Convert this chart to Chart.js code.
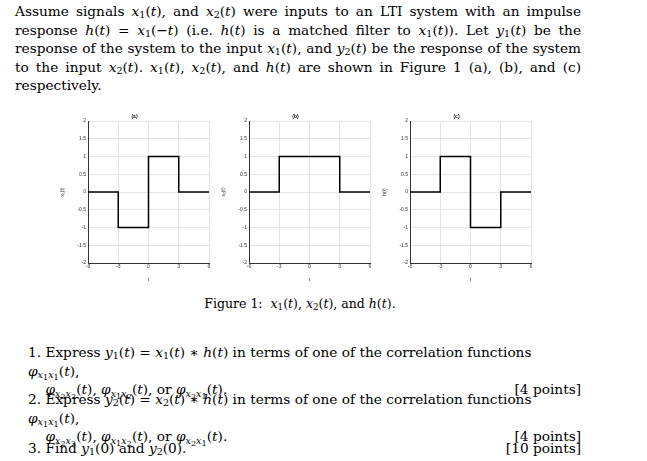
<!DOCTYPE html>
<html><head><meta charset="utf-8">
<script src="https://cdn.jsdelivr.net/npm/chart.js@4/dist/chart.umd.min.js"></script>
<style>
body{margin:0;width:647px;height:461px;background:#fff;font-family:"DejaVu Serif",serif;color:#000;position:relative;overflow:hidden}
.p{position:absolute;left:15px;width:566px;font-size:13.7px;line-height:18.6px;text-align:justify}
sub{font-size:70%;line-height:0;vertical-align:-0.25em}
sub sub{font-size:85%}
.c{position:absolute;top:113px;width:160px;height:170px}
.item{position:absolute;left:28px;width:553px;font-size:13.7px;line-height:18.6px}
.pts{float:right}
</style></head><body>
<div class="p" style="top:2px">Assume signals <i>x</i><sub>1</sub>(<i>t</i>), and <i>x</i><sub>2</sub>(<i>t</i>) were inputs to an LTI system with an impulse response <i>h</i>(<i>t</i>) = <i>x</i><sub>1</sub>(&minus;<i>t</i>) (i.e. <i>h</i>(<i>t</i>) is a matched filter to <i>x</i><sub>1</sub>(<i>t</i>)). Let <i>y</i><sub>1</sub>(<i>t</i>) be the response of the system to the input <i>x</i><sub>1</sub>(<i>t</i>), and <i>y</i><sub>2</sub>(<i>t</i>) be the response of the system to the input <i>x</i><sub>2</sub>(<i>t</i>). <i>x</i><sub>1</sub>(<i>t</i>), <i>x</i><sub>2</sub>(<i>t</i>), and <i>h</i>(<i>t</i>) are shown in Figure 1 (a), (b), and (c) respectively.</div>
<div class="c" style="left:60px"><canvas id="ca"></canvas></div>
<div class="c" style="left:221px"><canvas id="cb"></canvas></div>
<div class="c" style="left:382px"><canvas id="cc"></canvas></div>
<div style="position:absolute;top:296px;left:0;width:600px;text-align:center;font-size:12.5px">Figure 1: &nbsp;<i>x</i><sub>1</sub>(<i>t</i>), <i>x</i><sub>2</sub>(<i>t</i>), and <i>h</i>(<i>t</i>).</div>
<div class="item" style="top:343px">1. Express <i>y</i><sub>1</sub>(<i>t</i>) = <i>x</i><sub>1</sub>(<i>t</i>) &lowast; <i>h</i>(<i>t</i>) in terms of one of the correlation functions <i>&phi;</i><sub><i>x</i><sub>1</sub><i>x</i><sub>1</sub></sub>(<i>t</i>),<br>&nbsp;&nbsp;&nbsp;&nbsp;<i>&phi;</i><sub><i>x</i><sub>2</sub><i>x</i><sub>2</sub></sub>(<i>t</i>), <i>&phi;</i><sub><i>x</i><sub>1</sub><i>x</i><sub>2</sub></sub>(<i>t</i>), or <i>&phi;</i><sub><i>x</i><sub>2</sub><i>x</i><sub>1</sub></sub>(<i>t</i>).<span class="pts">[4 points]</span></div>
<div class="item" style="top:390px">2. Express <i>y</i><sub>2</sub>(<i>t</i>) = <i>x</i><sub>2</sub>(<i>t</i>) &lowast; <i>h</i>(<i>t</i>) in terms of one of the correlation functions <i>&phi;</i><sub><i>x</i><sub>1</sub><i>x</i><sub>1</sub></sub>(<i>t</i>),<br>&nbsp;&nbsp;&nbsp;&nbsp;<i>&phi;</i><sub><i>x</i><sub>2</sub><i>x</i><sub>2</sub></sub>(<i>t</i>), <i>&phi;</i><sub><i>x</i><sub>1</sub><i>x</i><sub>2</sub></sub>(<i>t</i>), or <i>&phi;</i><sub><i>x</i><sub>2</sub><i>x</i><sub>1</sub></sub>(<i>t</i>).<span class="pts">[4 points]</span></div>
<div class="item" style="top:439px">3. Find <i>y</i><sub>1</sub>(0) and <i>y</i><sub>2</sub>(0).<span class="pts">[10 points]</span></div>
<script>
// breakpoints of the piecewise-constant signals (value holds until next point)
const tPoints = [-6, -3, 0, 3, 6];
const x1Vals = [0, -1, 1, 0, 0];
const x2Vals = [0, 1, 1, 0, 0];
const hVals = [0, 1, -1, 0, 0];
const xTicks = [-6, -3, 0, 3, 6];
const yTicks = [-2, -1.5, -1, -0.5, 0, 0.5, 1, 1.5, 2];

function makeChart(id, vals, title, ylabel) {
    const tick = { size: 5, family: "Liberation Sans" };
    new Chart(document.getElementById(id), {
        type: 'line',
        data: { datasets: [{
            data: tPoints.map((t, i) => ({ x: t, y: vals[i] })),
            stepped: 'before', borderColor: '#000', borderWidth: 1.5,
            pointRadius: 0, fill: false
        }]},
        options: {
            animation: false, responsive: true, maintainAspectRatio: false,
            layout: { padding: { right: 11 } },
            plugins: {
                legend: { display: false }, tooltip: { enabled: false },
                title: { display: true, text: title, font: { size: 5, family: "Liberation Sans", weight: 'bold' }, color: '#222', padding: { top: 1, bottom: 1 } }
            },
            scales: {
                x: {
                    type: 'linear', min: -6, max: 6,
                    afterBuildTicks: s => { s.ticks = xTicks.map(v => ({ value: v })); },
                    afterFit: s => { s.height = 20; },
                    ticks: { font: tick, color: '#333', padding: 1, maxRotation: 0, callback: v => String(v) },
                    grid: { color: '#e4e4e4', drawTicks: false },
                    border: { color: '#333' },
                    title: { display: true, text: 't', font: tick, color: '#333', padding: 0 }
                },
                y: {
                    min: -2, max: 2,
                    afterBuildTicks: s => { s.ticks = yTicks.map(v => ({ value: v })); },
                    afterFit: s => { s.width = 28; },
                    ticks: { font: tick, color: '#333', padding: 2, callback: v => String(v) },
                    grid: { color: '#e4e4e4', drawTicks: false },
                    border: { color: '#333' },
                    title: { display: true, text: ylabel, font: tick, color: '#333', padding: 0 }
                }
            }
        }
    });
}
makeChart('ca', x1Vals, '(a)', 'x\u2081(t)');
makeChart('cb', x2Vals, '(b)', 'x\u2082(t)');
makeChart('cc', hVals, '(c)', 'h(t)');
</script>
</body></html>
